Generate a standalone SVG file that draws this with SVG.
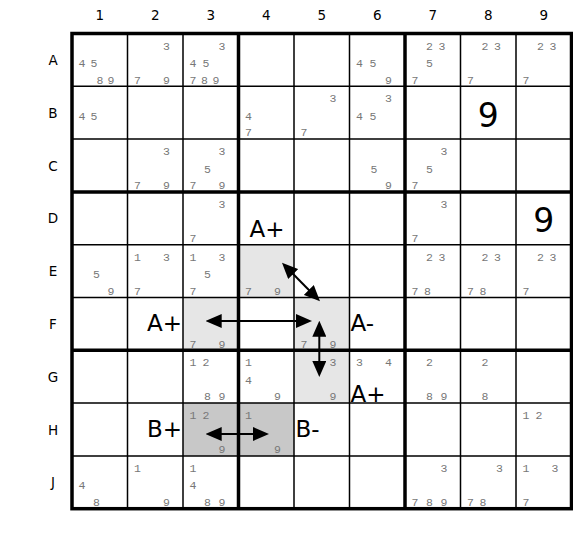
<svg xmlns="http://www.w3.org/2000/svg" width="573" height="534" viewBox="0 0 573 534">
<style>
.p{font-family:"Liberation Mono","DejaVu Sans Mono",monospace;font-size:11.5px;fill:#777;text-anchor:middle;transform:translate(-1px,0)}
.hdr{font-family:"DejaVu Sans",Verdana,sans-serif;font-size:13.5px;fill:#000;text-anchor:middle}
.lbl{font-family:"DejaVu Sans",Verdana,sans-serif;font-size:23px;fill:#000}
.big{font-family:"DejaVu Sans",Verdana,sans-serif;font-size:33px;fill:#000;text-anchor:middle}
.thin{stroke:#000;stroke-width:1.5;fill:none}
.thick{stroke:#000;stroke-width:3.5;fill:none}
.sh1{fill:#e6e6e6}
.sh2{fill:#c8c8c8}
.arr{stroke:#000;stroke-width:2;fill:none;marker-start:url(#ah);marker-end:url(#ah)}
</style>
<defs>
<marker id="ah" markerUnits="userSpaceOnUse" markerWidth="16" markerHeight="14" refX="11" refY="7" orient="auto-start-reverse"><path d="M0,0 L16,7 L0,14 z" fill="#000"/></marker>
</defs>
<rect width="573" height="534" fill="#fff"/>
<g id="shading">
<rect class="sh1" x="238.5" y="244.7" width="55.5" height="52.8"/>
<rect class="sh1" x="183" y="297.5" width="55.5" height="52.8"/>
<rect class="sh1" x="294" y="297.5" width="55.5" height="52.8"/>
<rect class="sh1" x="294" y="350.3" width="55.5" height="52.8"/>
<rect class="sh2" x="183" y="403.1" width="55.5" height="52.8"/>
<rect class="sh2" x="238.5" y="403.1" width="55.5" height="52.8"/>
</g>
<g id="headers">
<text class="hdr" x="99.75" y="20">1</text><text class="hdr" x="155.25" y="20">2</text><text class="hdr" x="210.75" y="20">3</text>
<text class="hdr" x="266.25" y="20">4</text><text class="hdr" x="321.75" y="20">5</text><text class="hdr" x="377.25" y="20">6</text>
<text class="hdr" x="432.75" y="20">7</text><text class="hdr" x="488.25" y="20">8</text><text class="hdr" x="543.75" y="20">9</text>
<text class="hdr" x="53" y="65">A</text><text class="hdr" x="53" y="117.7">B</text><text class="hdr" x="53" y="170.5">C</text>
<text class="hdr" x="53" y="223.3">D</text><text class="hdr" x="53" y="276.1">E</text><text class="hdr" x="53" y="328.9">F</text>
<text class="hdr" x="53" y="381.7">G</text><text class="hdr" x="53" y="434.5">H</text><text class="hdr" x="53" y="487.3">J</text>
</g>
<g id="grid">
<path class="thin" d="M127.5,33.5V508.7M183,33.5V508.7M294,33.5V508.7M349.5,33.5V508.7M460.5,33.5V508.7M516,33.5V508.7M72,86.3H571.5M72,139.1H571.5M72,244.7H571.5M72,297.5H571.5M72,403.1H571.5M72,455.9H571.5"/>
<path class="thick" d="M238.5,33.5V508.7M405,33.5V508.7M72,191.9H571.5M72,350.3H571.5"/>
<rect class="thick" x="72" y="33.5" width="499.5" height="475.2"/>
</g>
<g id="cell-A1"><text class="p" x="83" y="67">4</text><text class="p" x="95" y="67">5</text><text class="p" x="101" y="83.5">8</text><text class="p" x="112" y="83.5">9</text></g>
<g id="cell-A2"><text class="p" x="167.5" y="49.5">3</text><text class="p" x="138.5" y="83.5">7</text><text class="p" x="167.5" y="83.5">9</text></g>
<g id="cell-A3"><text class="p" x="223" y="49.5">3</text><text class="p" x="194" y="67">4</text><text class="p" x="207" y="67">5</text><text class="p" x="194" y="83.5">7</text><text class="p" x="205.5" y="83.5">8</text><text class="p" x="217" y="83.5">9</text></g>
<g id="cell-A6"><text class="p" x="360.5" y="67">4</text><text class="p" x="374" y="67">5</text><text class="p" x="389.5" y="83.5">9</text></g>
<g id="cell-A7"><text class="p" x="430.5" y="49.5">2</text><text class="p" x="443" y="49.5">3</text><text class="p" x="430.5" y="67">5</text><text class="p" x="416" y="83.5">7</text></g>
<g id="cell-A8"><text class="p" x="486" y="49.5">2</text><text class="p" x="498.5" y="49.5">3</text><text class="p" x="471.5" y="83.5">7</text></g>
<g id="cell-A9"><text class="p" x="541.5" y="49.5">2</text><text class="p" x="554" y="49.5">3</text><text class="p" x="527" y="83.5">7</text></g>
<g id="cell-B1"><text class="p" x="83" y="119.8">4</text><text class="p" x="95" y="119.8">5</text></g>
<g id="cell-B4"><text class="p" x="249.5" y="119.8">4</text><text class="p" x="249.5" y="136.3">7</text></g>
<g id="cell-B5"><text class="p" x="334" y="102.3">3</text><text class="p" x="305" y="136.3">7</text></g>
<g id="cell-B6"><text class="p" x="389.5" y="102.3">3</text><text class="p" x="360.5" y="119.8">4</text><text class="p" x="374" y="119.8">5</text></g>
<g id="cell-B8"><text class="big" x="488.25" y="126.7">9</text></g>
<g id="cell-C2"><text class="p" x="167.5" y="155.1">3</text><text class="p" x="138.5" y="189.1">7</text><text class="p" x="167.5" y="189.1">9</text></g>
<g id="cell-C3"><text class="p" x="223" y="155.1">3</text><text class="p" x="208.5" y="172.6">5</text><text class="p" x="194" y="189.1">7</text><text class="p" x="223" y="189.1">9</text></g>
<g id="cell-C6"><text class="p" x="375" y="172.6">5</text><text class="p" x="389.5" y="189.1">9</text></g>
<g id="cell-C7"><text class="p" x="445" y="155.1">3</text><text class="p" x="430.5" y="172.6">5</text><text class="p" x="416" y="189.1">7</text></g>
<g id="cell-D3"><text class="p" x="223" y="207.9">3</text><text class="p" x="194" y="241.9">7</text></g>
<g id="cell-D4"><text class="lbl" x="267" y="237" text-anchor="middle">A+</text></g>
<g id="cell-D7"><text class="p" x="445" y="207.9">3</text><text class="p" x="416" y="241.9">7</text></g>
<g id="cell-D9"><text class="big" x="543.75" y="232.3">9</text></g>
<g id="cell-E1"><text class="p" x="97.5" y="278.2">5</text><text class="p" x="112" y="294.7">9</text></g>
<g id="cell-E2"><text class="p" x="138.5" y="260.7">1</text><text class="p" x="167.5" y="260.7">3</text><text class="p" x="138.5" y="294.7">7</text></g>
<g id="cell-E3"><text class="p" x="194" y="260.7">1</text><text class="p" x="223" y="260.7">3</text><text class="p" x="208.5" y="278.2">5</text><text class="p" x="194" y="294.7">7</text></g>
<g id="cell-E4"><text class="p" x="249.5" y="294.7">7</text><text class="p" x="278.5" y="294.7">9</text></g>
<g id="cell-E7"><text class="p" x="430.5" y="260.7">2</text><text class="p" x="443" y="260.7">3</text><text class="p" x="416" y="294.7">7</text><text class="p" x="428.5" y="294.7">8</text></g>
<g id="cell-E8"><text class="p" x="486" y="260.7">2</text><text class="p" x="498.5" y="260.7">3</text><text class="p" x="471.5" y="294.7">7</text><text class="p" x="484" y="294.7">8</text></g>
<g id="cell-E9"><text class="p" x="541.5" y="260.7">2</text><text class="p" x="554" y="260.7">3</text><text class="p" x="527" y="294.7">7</text></g>
<g id="cell-F2"><text class="lbl" x="182" y="331" text-anchor="end">A+</text></g>
<g id="cell-F3"><text class="p" x="194" y="347.5">7</text><text class="p" x="223" y="347.5">9</text></g>
<g id="cell-F5"><text class="p" x="305" y="347.5">7</text><text class="p" x="334" y="347.5">9</text></g>
<g id="cell-F6"><text class="lbl" x="350.5" y="331">A-</text></g>
<g id="cell-G3"><text class="p" x="194" y="366.3">1</text><text class="p" x="207" y="366.3">2</text><text class="p" x="208.5" y="400.3">8</text><text class="p" x="223" y="400.3">9</text></g>
<g id="cell-G4"><text class="p" x="249.5" y="366.3">1</text><text class="p" x="249.5" y="383.8">4</text><text class="p" x="278.5" y="400.3">9</text></g>
<g id="cell-G5"><text class="p" x="334" y="366.3">3</text><text class="p" x="334" y="400.3">9</text></g>
<g id="cell-G6"><text class="p" x="360.5" y="366.3">3</text><text class="p" x="389.5" y="366.3">4</text><text class="lbl" x="350.5" y="401.5">A+</text></g>
<g id="cell-G7"><text class="p" x="430.5" y="366.3">2</text><text class="p" x="430.5" y="400.3">8</text><text class="p" x="445" y="400.3">9</text></g>
<g id="cell-G8"><text class="p" x="486" y="366.3">2</text><text class="p" x="486" y="400.3">8</text></g>
<g id="cell-H2"><text class="lbl" x="182" y="437" text-anchor="end">B+</text></g>
<g id="cell-H3"><text class="p" x="194" y="419.1">1</text><text class="p" x="207" y="419.1">2</text><text class="p" x="223" y="453.1">9</text></g>
<g id="cell-H4"><text class="p" x="249.5" y="419.1">1</text><text class="p" x="278.5" y="453.1">9</text></g>
<g id="cell-H5"><text class="lbl" x="295.5" y="437">B-</text></g>
<g id="cell-H9"><text class="p" x="527" y="419.1">1</text><text class="p" x="540" y="419.1">2</text></g>
<g id="cell-J1"><text class="p" x="83" y="489.4">4</text><text class="p" x="97.5" y="505.9">8</text></g>
<g id="cell-J2"><text class="p" x="138.5" y="471.9">1</text><text class="p" x="167.5" y="505.9">9</text></g>
<g id="cell-J3"><text class="p" x="194" y="471.9">1</text><text class="p" x="194" y="489.4">4</text><text class="p" x="208.5" y="505.9">8</text><text class="p" x="223" y="505.9">9</text></g>
<g id="cell-J7"><text class="p" x="445" y="471.9">3</text><text class="p" x="416" y="505.9">7</text><text class="p" x="430.5" y="505.9">8</text><text class="p" x="445" y="505.9">9</text></g>
<g id="cell-J8"><text class="p" x="500.5" y="471.9">3</text><text class="p" x="471.5" y="505.9">7</text><text class="p" x="484" y="505.9">8</text></g>
<g id="cell-J9"><text class="p" x="527" y="471.9">1</text><text class="p" x="556" y="471.9">3</text><text class="p" x="527" y="505.9">7</text></g>
<g id="connectors">
<line class="arr" x1="285.5" y1="266.2" x2="316.5" y2="297.8"/>
<line class="arr" x1="210.7" y1="321" x2="307" y2="321"/>
<line class="arr" x1="319.3" y1="325.7" x2="319.3" y2="372"/>
<line class="arr" x1="210.7" y1="434" x2="264" y2="434"/>
</g>
</svg>
